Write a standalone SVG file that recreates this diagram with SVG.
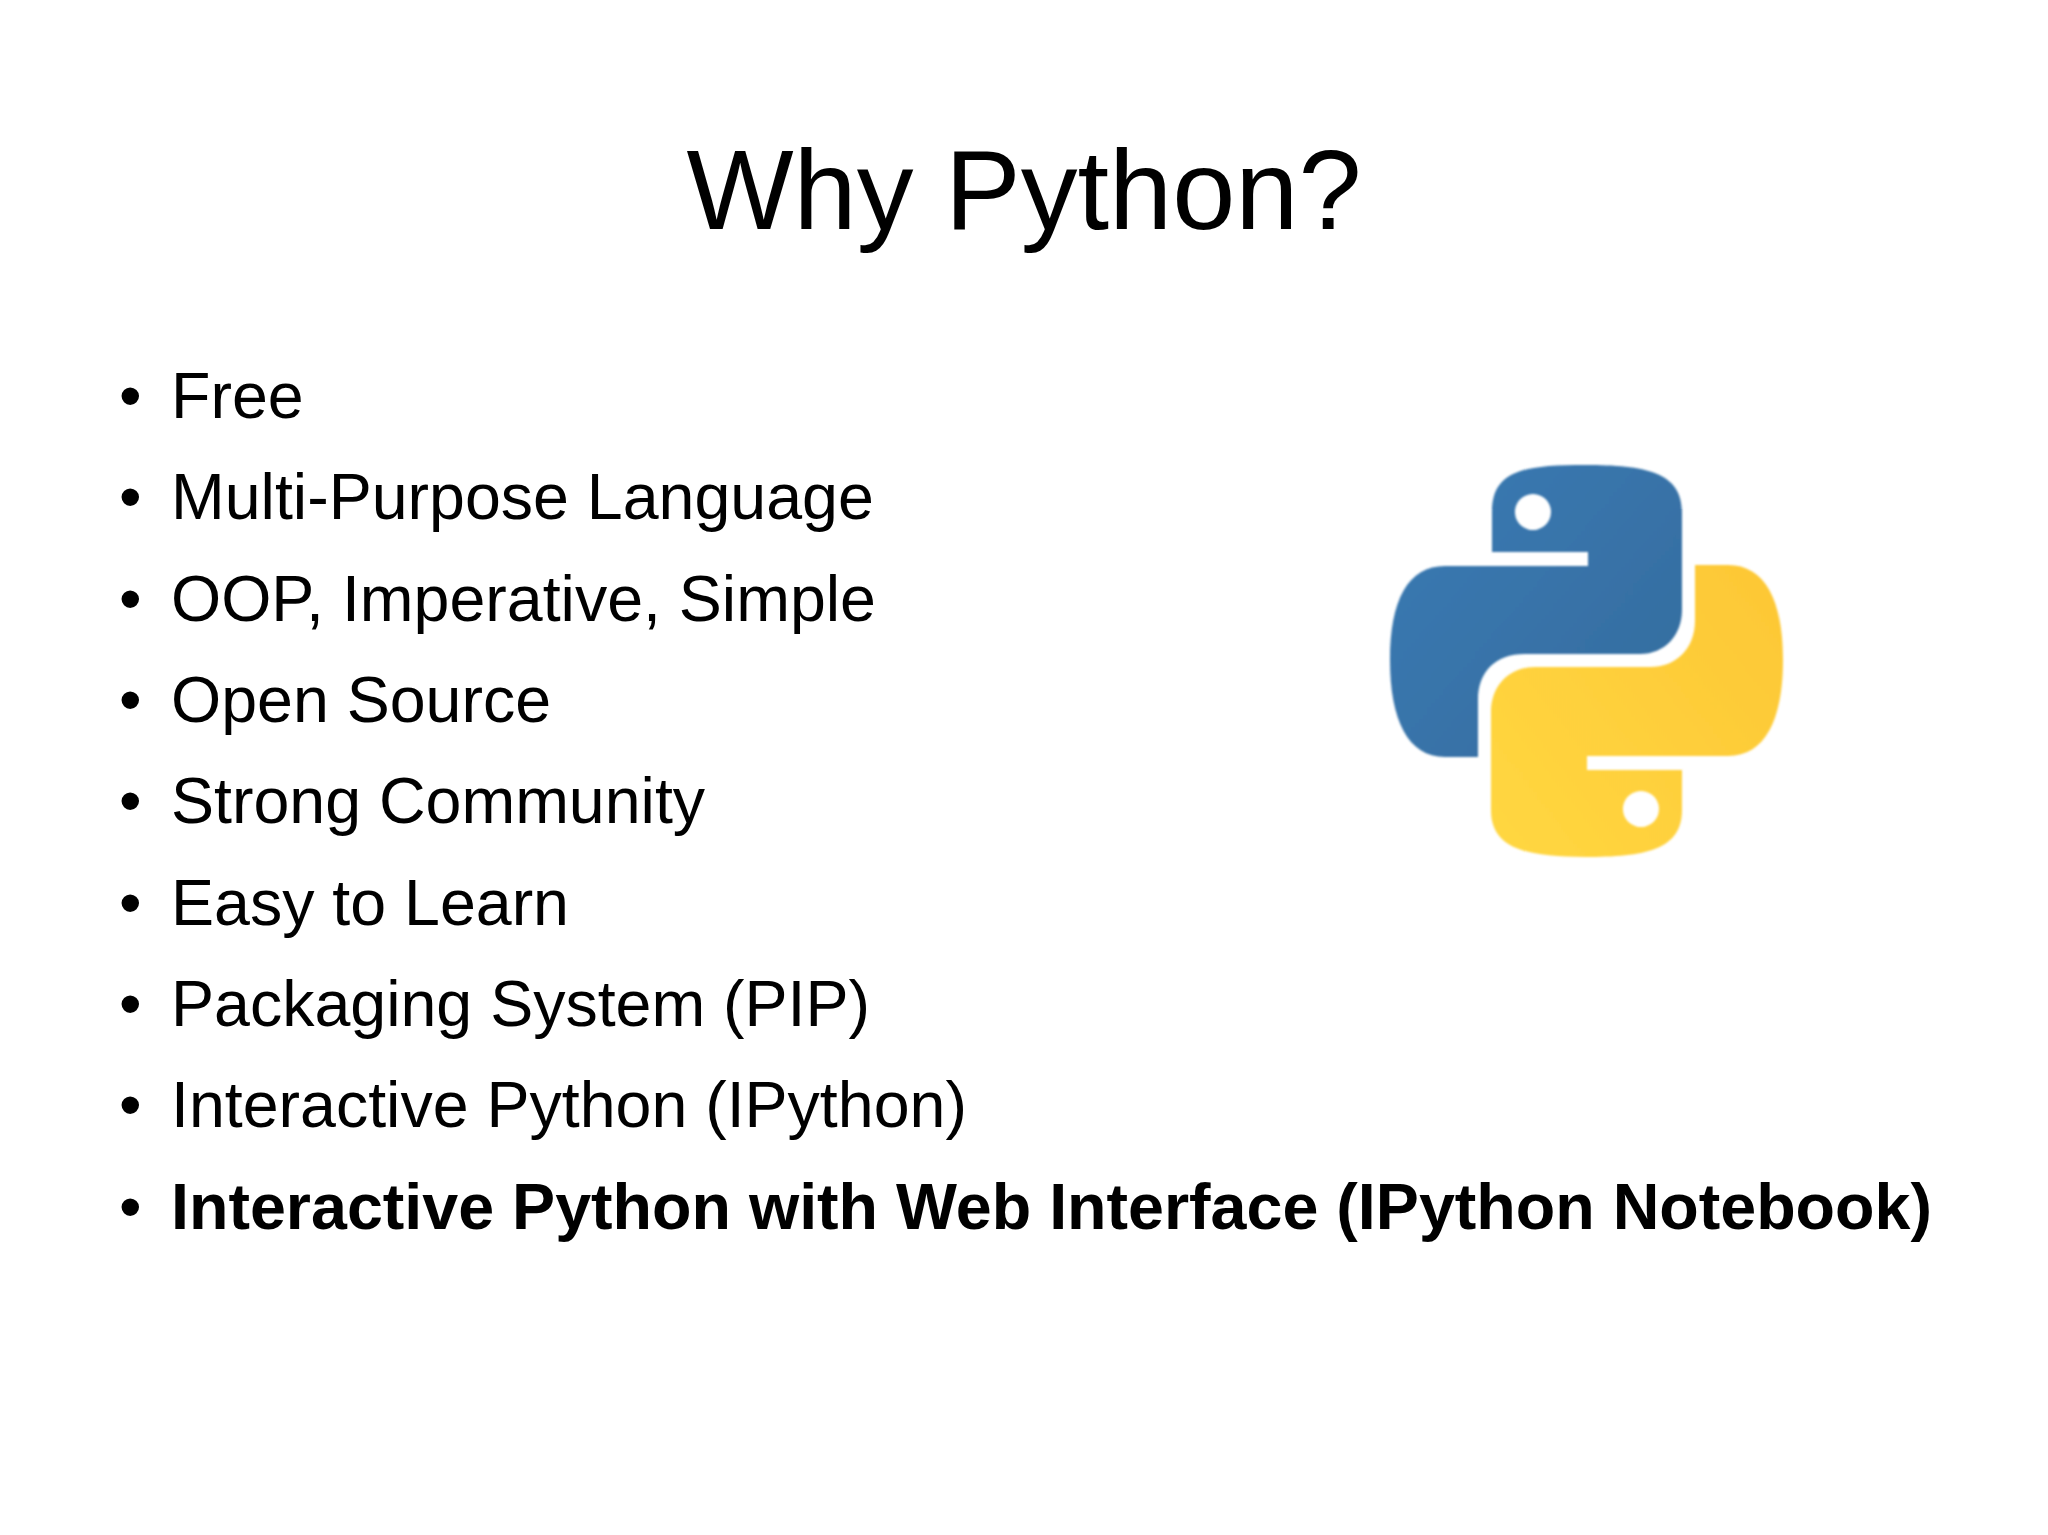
<svg xmlns="http://www.w3.org/2000/svg" width="2048" height="1535" viewBox="0 0 2048 1535">
<defs>
<linearGradient id="b" gradientUnits="userSpaceOnUse" x1="1400" y1="480" x2="1690" y2="730"><stop offset="0" stop-color="#3a7ab3"/><stop offset="1" stop-color="#356c9e"/></linearGradient>
<linearGradient id="y" gradientUnits="userSpaceOnUse" x1="1500" y1="820" x2="1780" y2="600"><stop offset="0" stop-color="#ffd640"/><stop offset="1" stop-color="#fdc836"/></linearGradient>
<filter id="soft" x="-5%" y="-5%" width="110%" height="110%"><feGaussianBlur stdDeviation="0.9"/></filter>
</defs>
<style>
text{font-family:"Liberation Sans",Arial,sans-serif;fill:#000}
.t{font-size:64.5px}
.s{font-size:64.6px;font-weight:bold}
.tt{font-size:113.5px;text-anchor:middle}
</style>
<rect width="2048" height="1535" fill="#fff"/>
<g id="title"><text class="tt" x="1024" y="229">Why Python?</text></g>
<g id="bullets">
<text class="t" x="119" y="418">•</text><text class="t" x="171" y="418">Free</text>
<text class="t" x="119" y="519">•</text><text class="t" x="171" y="519">Multi-Purpose Language</text>
<text class="t" x="119" y="621">•</text><text class="t" x="171" y="621">OOP, Imperative, Simple</text>
<text class="t" x="119" y="722">•</text><text class="t" x="171" y="722">Open Source</text>
<text class="t" x="119" y="823">•</text><text class="t" x="171" y="823">Strong Community</text>
<text class="t" x="119" y="925">•</text><text class="t" x="171" y="925">Easy to Learn</text>
<text class="t" x="119" y="1026">•</text><text class="t" x="171" y="1026">Packaging System (PIP)</text>
<text class="t" x="119" y="1127">•</text><text class="t" x="171" y="1127">Interactive Python (IPython)</text>
<text class="t" x="119" y="1229">•</text><text class="s" x="171" y="1229">Interactive Python with Web Interface (IPython Notebook)</text>
</g>
<g id="logo" filter="url(#soft)">
<path fill="url(#b)" fill-rule="evenodd" d="M1585 465C1525 465 1492 470 1492 512V552H1588V566H1445C1408 566 1390 600 1390 660C1390 720 1408 757 1445 757H1478V700C1478 672 1495 654 1525 654H1640C1665 654 1682 635 1682 610V512C1682 472 1645 465 1585 465ZM1533 494A18 18 0 1 1 1532.9 494Z"/>
<path fill="url(#y)" fill-rule="evenodd" d="M1695 565H1728C1765 565 1783 600 1783 660C1783 720 1765 756 1728 756H1587V770H1682V810C1682 850 1645 857 1585 857C1525 857 1491 848 1491 810V712C1491 687 1508 667 1535 667H1650C1675 667 1695 650 1695 620ZM1641 791A18 18 0 1 1 1640.9 791Z"/>
</g>
</svg>
